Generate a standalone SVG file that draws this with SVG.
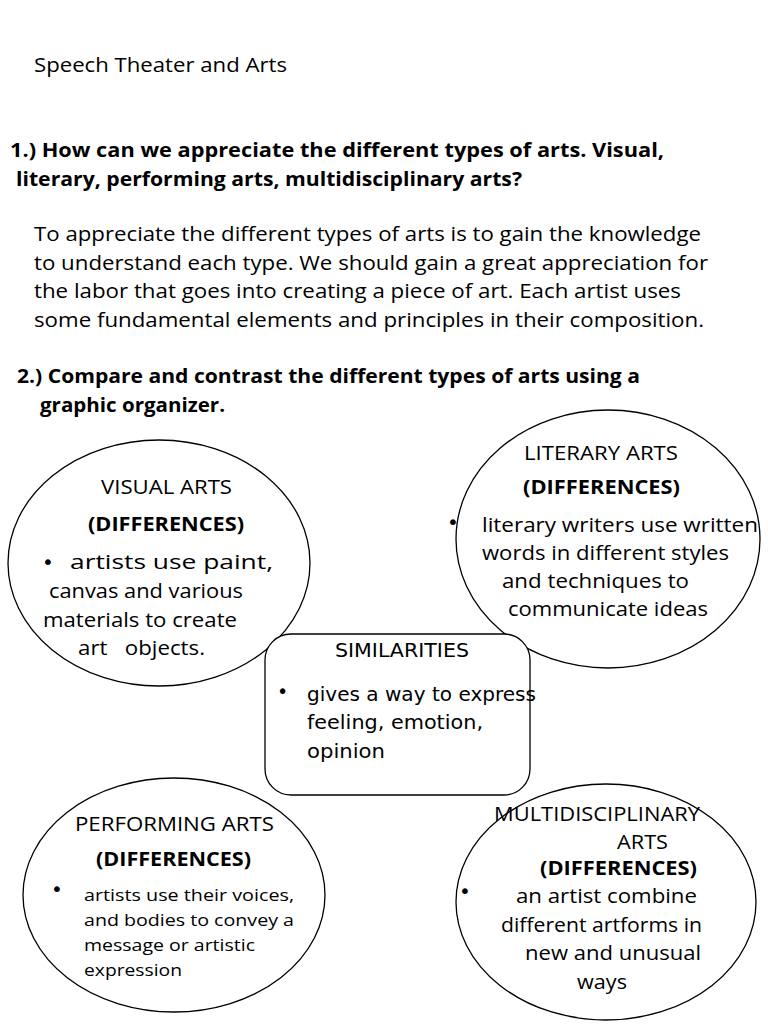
<svg xmlns="http://www.w3.org/2000/svg" width="768" height="1024" viewBox="0 0 768 1024">
<style>
text{font-family:"Open Sans","Noto Sans","Liberation Sans",sans-serif;fill:#000;}
.t{font-size:20px;}
.b{font-size:20px;font-weight:bold;}
.p{font-size:20px;}
.s{font-family:"DejaVu Sans","Liberation Sans",sans-serif;font-size:19px;}
.sm{font-size:17px;}
.bl{font-family:"DejaVu Sans","Liberation Sans",sans-serif;font-size:20px;}
.shape{fill:#fff;stroke:#000;stroke-width:1.3;}
</style>
<rect width="768" height="1024" fill="#fff"/>
<g id="header">
<text class="t" x="34" y="72" textLength="253" lengthAdjust="spacingAndGlyphs">Speech Theater and Arts</text>
<text class="b" x="10" y="157" textLength="654" lengthAdjust="spacingAndGlyphs">1.) How can we appreciate the different types of arts. Visual,</text>
<text class="b" x="16" y="186" textLength="506" lengthAdjust="spacingAndGlyphs">literary, performing arts, multidisciplinary arts?</text>
<text class="p" x="34" y="241" textLength="667" lengthAdjust="spacingAndGlyphs">To appreciate the different types of arts is to gain the knowledge</text>
<text class="p" x="34" y="270" textLength="674" lengthAdjust="spacingAndGlyphs">to understand each type. We should gain a great appreciation for</text>
<text class="p" x="34" y="298" textLength="647" lengthAdjust="spacingAndGlyphs">the labor that goes into creating a piece of art. Each artist uses</text>
<text class="p" x="34" y="327" textLength="670" lengthAdjust="spacingAndGlyphs">some fundamental elements and principles in their composition.</text>
<text class="b" x="17" y="383" textLength="623" lengthAdjust="spacingAndGlyphs">2.) Compare and contrast the different types of arts using a</text>
<text class="b" x="40" y="412" textLength="185" lengthAdjust="spacingAndGlyphs">graphic organizer.</text>
</g>
<g id="connectors"></g>
<g id="visual-arts">
<ellipse class="shape" cx="159" cy="563" rx="151" ry="123"/>
<text class="t" x="101" y="494" textLength="131" lengthAdjust="spacingAndGlyphs">VISUAL ARTS</text>
<text class="b" x="88" y="531" textLength="156" lengthAdjust="spacingAndGlyphs">(DIFFERENCES)</text>
<text class="bl" x="42" y="569">•</text>
<text class="t" x="70" y="569" textLength="203" lengthAdjust="spacingAndGlyphs">artists use paint,</text>
<text class="t" x="49" y="598" textLength="194" lengthAdjust="spacingAndGlyphs">canvas and various</text>
<text class="t" x="43" y="627" textLength="194" lengthAdjust="spacingAndGlyphs">materials to create</text>
<text class="t" x="78" y="655" xml:space="preserve" textLength="127" lengthAdjust="spacingAndGlyphs">art   objects.</text>
</g>
<g id="literary-arts">
<ellipse class="shape" cx="608" cy="539" rx="152" ry="129"/>
<text class="t" x="524" y="460" textLength="154" lengthAdjust="spacingAndGlyphs">LITERARY ARTS</text>
<text class="b" x="523" y="494" textLength="157" lengthAdjust="spacingAndGlyphs">(DIFFERENCES)</text>
<text class="bl" x="447" y="529">•</text>
<text class="t" x="482" y="532" textLength="276" lengthAdjust="spacingAndGlyphs">literary writers use written</text>
<text class="t" x="482" y="560" textLength="247" lengthAdjust="spacingAndGlyphs">words in different styles</text>
<text class="t" x="502" y="588" textLength="187" lengthAdjust="spacingAndGlyphs">and techniques to</text>
<text class="t" x="508" y="616" textLength="200" lengthAdjust="spacingAndGlyphs">communicate ideas</text>
</g>
<g id="performing-arts">
<ellipse class="shape" cx="174" cy="895" rx="151" ry="117"/>
<text class="t" x="75" y="831" textLength="199" lengthAdjust="spacingAndGlyphs">PERFORMING ARTS</text>
<text class="b" x="96" y="866" textLength="155" lengthAdjust="spacingAndGlyphs">(DIFFERENCES)</text>
<text class="bl" x="51" y="896">•</text>
<text class="sm" x="84" y="901" textLength="210" lengthAdjust="spacingAndGlyphs">artists use their voices,</text>
<text class="sm" x="84" y="926" textLength="210" lengthAdjust="spacingAndGlyphs">and bodies to convey a</text>
<text class="sm" x="84" y="951" textLength="171" lengthAdjust="spacingAndGlyphs">message or artistic</text>
<text class="sm" x="84" y="976" textLength="98" lengthAdjust="spacingAndGlyphs">expression</text>
</g>
<g id="multidisciplinary-arts">
<ellipse class="shape" cx="606" cy="902" rx="150" ry="118"/>
<text class="t" x="494" y="821" textLength="206" lengthAdjust="spacingAndGlyphs">MULTIDISCIPLINARY</text>
<text class="t" x="617" y="849" font-size="19" textLength="51" lengthAdjust="spacingAndGlyphs">ARTS</text>
<text class="b" x="540" y="875" textLength="157" lengthAdjust="spacingAndGlyphs">(DIFFERENCES)</text>
<text class="bl" x="459" y="898">•</text>
<text class="t" x="516" y="903" textLength="181" lengthAdjust="spacingAndGlyphs">an artist combine</text>
<text class="t" x="501" y="932" textLength="201" lengthAdjust="spacingAndGlyphs">different artforms in</text>
<text class="t" x="525" y="960" textLength="176" lengthAdjust="spacingAndGlyphs">new and unusual</text>
<text class="t" x="577" y="989" textLength="50" lengthAdjust="spacingAndGlyphs">ways</text>
</g>
<g id="similarities">
<rect class="shape" x="265" y="634" width="265" height="161" rx="26" ry="26"/>
<text class="s" x="335" y="657" textLength="134" lengthAdjust="spacingAndGlyphs">SIMILARITIES</text>
<text class="s" x="277" y="698">•</text>
<text class="s" x="307" y="701" textLength="229" lengthAdjust="spacingAndGlyphs">gives a way to express</text>
<text class="s" x="307" y="729" textLength="176" lengthAdjust="spacingAndGlyphs">feeling, emotion,</text>
<text class="s" x="307" y="758" textLength="78" lengthAdjust="spacingAndGlyphs">opinion</text>
</g>
</svg>
